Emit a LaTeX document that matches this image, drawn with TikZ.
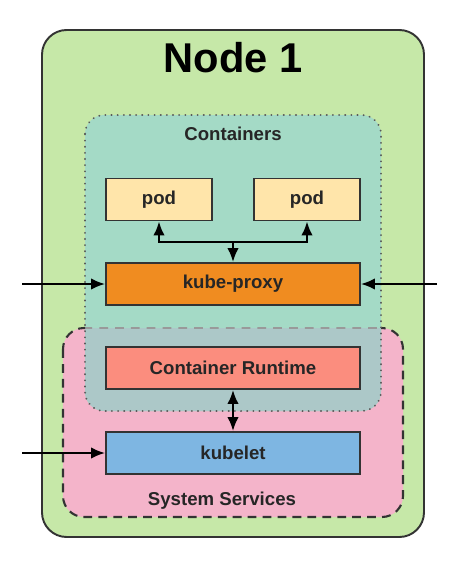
\documentclass[tikz,border=0pt]{standalone}
\usepackage{fontspec}
\setmainfont{Liberation Sans}
\usetikzlibrary{arrows.meta,positioning}
\definecolor{nodegreen}{RGB}{198,232,168}
\definecolor{contteal}{RGB}{164,218,198}
\definecolor{syspink}{RGB}{244,180,202}
\definecolor{overlapgrey}{RGB}{172,200,200}
\definecolor{podyellow}{RGB}{255,229,170}
\definecolor{proxyorange}{RGB}{240,140,32}
\definecolor{runtimered}{RGB}{251,141,126}
\definecolor{kubeletblue}{RGB}{126,182,226}
\tikzset{
  box/.style={draw=black!80, line width=0.9pt, minimum width=5.08cm, minimum height=0.84cm,
    font=\fontsize{10.6}{12}\selectfont\bfseries, text=black!85},
  podbox/.style={box, minimum width=2.12cm, fill=podyellow},
  tip/.tip={Latex[length=8pt,width=6.5pt]},
  link/.style={line width=1.4pt, -tip},
  label/.style={anchor=base, font=\fontsize{10.6}{12}\selectfont\bfseries, text=black!85},
}
\begin{document}
\begin{tikzpicture}[x=0.02cm,y=-0.02cm]
\useasboundingbox (0,0) rectangle (474,565);
% node frame
\draw[fill=nodegreen, draw=black!80, line width=1.1pt, rounded corners=14pt] (42,30) rectangle (424,537);
\node[anchor=base, font=\fontsize{23.7}{28}\selectfont\bfseries] (title) at (233,72) {Node 1};
% system services and containers
\fill[syspink, rounded corners=12pt] (63,328) rectangle (403,517);
\fill[contteal, rounded corners=11pt] (85,115) rectangle (381,411);
\begin{scope}
  \clip[rounded corners=12pt] (63,328) rectangle (403,517);
  \fill[overlapgrey, rounded corners=11pt] (85,115) rectangle (381,411);
\end{scope}
% services border, light inside the containers area
\begin{scope}
  \clip[rounded corners=11pt] (85,115) rectangle (381,411);
  \draw[black!40, line width=1pt, dash pattern=on 5pt off 4pt, rounded corners=12pt] (63,328) rectangle (403,517);
\end{scope}
\begin{scope}[even odd rule]
  \clip[rounded corners=11pt] (0,0) rectangle (474,565) (85,115) rectangle (381,411);
  \draw[black!80, line width=1.2pt, dash pattern=on 5pt off 3.5pt, rounded corners=12pt] (63,328) rectangle (403,517);
\end{scope}
\draw[black!65, line width=1.1pt, dash pattern=on 0.1pt off 3.4pt, line cap=round, rounded corners=11pt] (85,115) rectangle (381,411);
\node[label] (contlbl) at (233,140) {Containers};
\node[label] (syslbl) at (222,505) {System Services};
% boxes
\node[podbox] (podl) at (159,199.5) {pod};
\node[podbox] (podr) at (307,199.5) {pod};
\node[box, fill=proxyorange] (proxy) at (233,284) {kube-proxy};
\node[box, fill=runtimered] (runtime) at (233,368) {Container Runtime};
\node[box, fill=kubeletblue] (kubelet) at (233,453) {kubelet};
% links
\coordinate (split) at (233,242);
\draw[link] (split) -| (podl.south);
\draw[link] (split) -| (podr.south);
\draw[link] (split) -- (proxy.north);
\coordinate (inl) at (22,284);
\coordinate (inr) at (437,284);
\coordinate (inkub) at (22,453);
\draw[link] (inl) -- (proxy.west);
\draw[link] (inr) -- (proxy.east);
\draw[link] (inkub) -- (kubelet.west);
\draw[link, tip-tip] (runtime.south) -- (kubelet.north);
\end{tikzpicture}
\end{document}
